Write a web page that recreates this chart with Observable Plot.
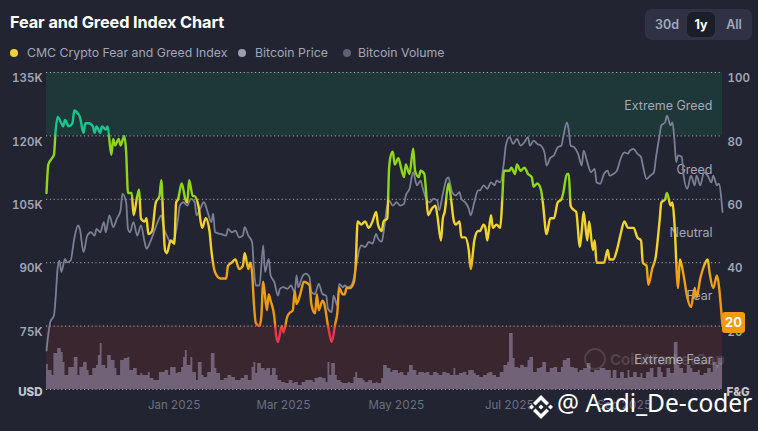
<!DOCTYPE html>
<html><head><meta charset="utf-8">
<script src="https://cdn.jsdelivr.net/npm/d3@7"></script>
<script src="https://cdn.jsdelivr.net/npm/@observablehq/plot@0.6"></script>
<style>
html,body{margin:0;padding:0;background:#222531;}
#wrap{position:relative;width:758px;height:431px;overflow:hidden;background:#222531;font-family:Inter,"Noto Sans",sans-serif;}
#title{position:absolute;left:10px;top:12px;color:#fff;font-weight:700;font-size:16.3px;letter-spacing:-0.1px;white-space:nowrap;}
.leg{position:absolute;top:45px;height:16px;line-height:16px;font-size:12.3px;color:#a0a5ba;white-space:nowrap;}
.dot{position:absolute;top:49px;width:8px;height:8px;border-radius:50%;}
#btns{position:absolute;left:645px;top:9px;width:107px;height:31px;border-radius:7px;background:#2e3244;}
.btn{position:absolute;top:0;height:31px;line-height:31px;font-size:12.5px;font-weight:600;color:#a3a8bc;text-align:center;}
#sel{position:absolute;left:42px;top:3px;width:28px;height:25px;border-radius:6px;background:#1b1d29;}
#chart{position:absolute;left:0;top:62px;}
#wm{position:absolute;left:557px;top:386px;font-family:"Noto Sans",sans-serif;font-size:24.5px;color:#fff;white-space:nowrap;}
#logo{position:absolute;left:528px;top:394px;}
#cmc{position:absolute;left:610px;top:350px;font-size:15px;font-weight:700;color:#fff;opacity:0.12;white-space:nowrap;}
#cmcl{position:absolute;left:584px;top:348px;width:18px;height:18px;border:2.5px solid #fff;border-radius:50%;opacity:0.12;}
</style></head>
<body>
<div id="wrap">
  <div id="title">Fear and Greed Index Chart</div>
  <div class="dot" style="left:10px;background:#f3d42f"></div><div class="leg" style="left:27px">CMC Crypto Fear and Greed Index</div>
  <div class="dot" style="left:238px;background:#9c9fad"></div><div class="leg" style="left:255px">Bitcoin Price</div>
  <div class="dot" style="left:343px;background:#5d6173"></div><div class="leg" style="left:358px">Bitcoin Volume</div>
  <div id="btns"><div id="sel"></div>
    <div class="btn" style="left:6px;width:32px">30d</div>
    <div class="btn" style="left:42px;width:28px;color:#fff;font-weight:700">1y</div>
    <div class="btn" style="left:74px;width:30px">All</div>
  </div>
  <div id="chart"></div>
  <div id="cmcl"></div><div id="cmc">CoinMarketCap</div>
  <svg id="logo" width="26" height="26" viewBox="0 0 26 26"><g fill="#fff">
    <polygon points="13,1 21,9 18.5,11.5 13,6 7.5,11.5 5,9"/>
    <polygon points="13,25 21,17 18.5,14.5 13,20 7.5,14.5 5,17"/>
    <polygon points="1,13 3.5,10.5 6,13 3.5,15.5"/>
    <polygon points="25,13 22.5,10.5 20,13 22.5,15.5"/>
    <polygon points="13,10.5 15.5,13 13,15.5 10.5,13"/>
  </g></svg>
  <div id="wm">@ Aadi_De-coder</div>
</div>
<script>
// ---- data (day offsets from 2024-10-24) ----
const fngDay = [0,1,3,4,5,6,8,9,10,12,14,15,17,18,20,21,23,25,26,27,29,30,32,33,35,36,37,39,40,42,43,44,46,47,49,50,51,53,54,55,57,59,61,62,63,64,65,67,69,70,71,73,75,76,77,79,80,82,84,86,88,89,91,94,97,98,100,102,104,106,107,109,110,111,112,113,115,116,117,119,120,121,123,124,125,127,128,130,131,133,134,135,137,139,142,143,145,146,147,149,150,152,153,154,156,157,158,160,161,162,164,166,167,168,170,172,174,176,178,179,181,182,184,185,186,187,188,190,191,193,194,196,198,199,201,202,204,205,206,208,210,211,213,214,215,217,218,220,221,223,224,226,228,229,231,233,234,236,237,238,240,241,243,245,246,247,250,251,253,254,256,258,260,262,263,265,267,268,270,272,274,276,278,279,281,282,283,284,286,288,289,290,292,293,295,296,297,299,301,303,304,306,308,310,312,314,315,317,319,321,322,324,325,327,329,331,332,334,335,337,338,339,341,342,344,346,348,350,351,353,355,357,358,360,362,363,364,365];
const fngVal = [62,71,73,74,82,86,84,83,85,83,84,88,87,86,81,84,84,83,81,83,81,83,82,83,74,79,77,79,77,80,75,62,62,55,61,63,54,53,54,49,50,59,61,66,54,44,43,47,46,59,60,65,60,59,66,61,61,58,51,54,50,44,37,35,35,39,40,41,38,39,43,38,40,37,27,21,20,23,34,25,30,28,23,17,15,20,18,23,24,25,31,27,30,34,33,27,24,30,25,28,27,20,17,15,21,24,32,30,30,32,32,34,40,53,52,53,51,53,56,52,50,53,54,70,74,75,71,73,71,67,71,68,76,69,67,69,68,62,55,57,58,55,47,54,56,65,62,53,52,53,48,48,44,38,47,50,50,52,51,47,55,51,52,51,59,69,69,70,68,71,69,70,68,67,64,65,63,59,49,54,54,59,60,62,68,68,58,57,56,45,50,56,47,53,44,47,40,40,40,44,41,41,44,49,53,51,51,51,48,47,40,39,33,38,42,53,59,60,62,58,59,53,32,41,36,29,26,32,29,35,39,41,37,32,36,33,27,20];

const priceDay = [0,2,4,5,6,7,8,10,11,13,15,17,18,20,22,24,26,27,29,31,32,34,36,38,40,41,43,44,45,47,49,51,53,54,56,58,60,62,63,65,67,69,71,72,74,76,78,80,81,83,85,87,89,90,91,94,97,98,100,102,104,106,107,109,111,112,113,115,117,118,120,121,123,125,126,128,130,132,134,135,136,138,140,142,143,145,147,149,151,152,154,155,157,158,160,161,163,165,167,169,170,172,174,176,178,179,181,182,184,185,187,189,191,193,194,196,198,200,202,203,205,207,209,211,212,214,216,217,219,221,223,224,226,228,229,231,233,234,236,238,240,242,243,245,247,248,250,252,254,256,258,260,261,263,265,267,269,270,272,274,276,278,279,281,282,283,285,287,289,290,292,294,296,297,299,301,303,304,306,308,310,312,314,315,317,319,321,322,324,326,328,329,331,332,334,335,337,338,339,340,341,343,344,346,348,350,351,353,355,357,359,360,362,363,365];
const priceVal = [69.2,75.9,77.5,82.2,88.6,90.5,87.8,90.9,90.1,90.5,95.7,98.8,98,92.5,96.4,97.2,96.4,98,97.2,99.6,97.2,101.2,98.4,100.4,102.4,106.3,104.3,98,97.2,99.6,96.4,98.8,94.9,93.3,94.9,97.2,99.6,101.2,98.8,96.4,94.9,95.7,100.4,103.5,104.3,103.5,105.1,104.3,101.2,102.8,104.3,102,99.6,101.6,97.2,96.8,96.4,98,97.2,97.6,96,96.4,98.4,96.4,94.9,88.6,84.6,84.6,94.1,87.8,90.9,87,85.4,82.2,83.8,84.2,83.8,84.6,83,87,84.2,86.6,87.4,86.6,83,82.6,85,82.6,82.2,79.1,78.3,82.2,79.9,85,84.2,84.6,84.2,85,88.6,93.3,94.1,93.7,94.9,94.5,96.8,95.7,95,97.2,103.5,104.7,103.5,104.3,103.5,103.9,105.9,107.5,111.4,108.3,109.4,107.9,105.1,104.3,105.1,104.7,102.4,106.3,109.8,110.2,106.7,105.9,106.7,105.1,104.3,102.8,101.2,104.3,107.1,107.1,108.3,107.5,109,108.3,109.4,109,113.8,117.7,119.7,118.1,119.3,117.7,118.5,119.7,117.7,118.9,118.1,117.7,115.8,113,114.8,115.4,117.3,117.7,119.7,123.2,121.3,117.7,117.3,115.8,113,116.5,113.8,111.4,112.2,109,108.7,111,111.8,110.6,111,111.8,114.6,116.1,115.8,116.5,116.9,115.8,115,113,109.8,110.6,111.4,114.6,120.1,122.5,123.2,124.8,122.5,123.2,119.3,113.8,115.4,115,110.6,107.5,110.6,108.3,110.6,108.3,111.4,110.6,109,110.6,108.3,108.7,102];

const volDay = [0,1,3,4,6,8,9,10,12,14,15,17,18,20,22,23,25,27,28,29,30,32,33,35,37,38,40,42,44,45,47,49,51,52,55,56,58,61,64,66,67,70,71,73,74,75,76,78,79,81,82,84,85,87,89,91,92,94,96,98,100,102,103,105,107,109,111,112,113,114,116,118,119,121,122,124,125,127,129,131,133,134,136,138,140,141,144,145,147,149,151,152,153,154,156,157,159,160,163,164,166,167,168,171,172,174,176,178,179,181,182,184,186,187,190,191,193,195,196,198,200,201,204,205,207,209,211,212,214,216,218,220,221,223,225,227,228,231,232,234,236,238,239,241,243,245,247,249,250,252,253,255,256,258,260,261,263,265,267,268,270,272,274,276,278,279,281,283,285,287,288,290,292,294,296,299,302,305,306,308,310,312,314,315,317,319,321,322,324,326,328,330,332,333,335,337,339,341,342,344,346,348,349,352,353,355,357,359,360,362,363,365];
const volVal = [50,38,28,72,82,74,54,28,44,44,64,28,44,54,38,28,42,48,68,92,48,42,68,58,42,28,58,62,64,38,42,28,32,28,34,22,18,34,38,28,44,32,34,44,64,78,48,64,34,18,54,28,24,34,72,42,32,18,22,28,24,18,18,22,28,18,44,54,32,52,42,38,42,28,42,28,18,14,12,18,12,14,8,14,18,18,14,22,24,22,14,54,28,52,28,18,14,12,14,12,24,34,22,18,14,18,12,14,12,22,48,42,34,38,32,34,28,34,48,38,28,34,32,34,28,34,32,28,34,32,28,42,28,32,34,28,38,32,28,24,28,32,34,28,24,34,48,54,112,62,44,42,48,44,58,64,34,42,44,54,34,42,44,34,44,58,62,44,42,34,38,42,52,34,38,42,38,22,38,22,34,22,38,24,34,24,32,22,34,42,24,44,34,24,42,32,94,48,42,32,48,42,34,38,28,32,42,34,54,48,62,52];

const priceTickLabels = ["USD","75K","90K","105K","120K","135K"];
const fngTickLabels = ["F&G","20","40","60","80","100"];
const fngTicks = [0,20,40,60,80,100];
const monthTicks = ["2025-01-01","2025-03-01","2025-05-01","2025-07-01","2025-09-01"];
const zones = [
  {label:"Extreme Greed", lo:80, hi:100},
  {label:"Greed", lo:60, hi:80},
  {label:"Neutral", lo:40, hi:60},
  {label:"Fear", lo:20, hi:40},
  {label:"Extreme Fear", lo:0, hi:20}
];

// ---- build tables ----
const start = Date.UTC(2024, 9, 24);
const toDate = d => new Date(start + d * 864e5);
const fng = fngDay.map((d, i) => ({date: toDate(d), v: fngVal[i]}));
const price = priceDay.map((d, i) => ({date: toDate(d), p: priceVal[i]}));
const vol = volDay.map((d, i) => ({date: toDate(d), b: volVal[i]}));
const P2F = p => (p - 60) / 0.75;      // USD K -> index units (60K..135K = 0..100)
const V2F = b => b * 0.158;            // volume $B -> index units
const last = fng[fng.length - 1];

const stops = [[100,"#17c68c"],[81,"#17c68c"],[79,"#8fd61a"],[61,"#8fd61a"],[59,"#f2d22c"],[42,"#f2d22c"],[38,"#f0a417"],[21,"#ee9410"],[19,"#e8374a"],[0,"#e8374a"]];
const NS = "http://www.w3.org/2000/svg";
function gradientDefs(index, scales) {
  const defs = document.createElementNS(NS, "defs");
  const g = document.createElementNS(NS, "linearGradient");
  g.setAttribute("id", "fgGrad");
  g.setAttribute("gradientUnits", "userSpaceOnUse");
  g.setAttribute("x1", 0); g.setAttribute("x2", 0);
  g.setAttribute("y1", scales.y(100)); g.setAttribute("y2", scales.y(0));
  for (const [v, c] of stops) {
    const s = document.createElementNS(NS, "stop");
    s.setAttribute("offset", (100 - v) / 100);
    s.setAttribute("stop-color", c);
    g.appendChild(s);
  }
  defs.appendChild(g);
  return defs;
}
function badge(index, scales, values, dims) {
  const gEl = document.createElementNS(NS, "g");
  const x0 = dims.width - dims.marginRight;
  const cy = scales.y(last.v) - 3;
  const r = document.createElementNS(NS, "rect");
  r.setAttribute("x", x0); r.setAttribute("y", cy - 10.5);
  r.setAttribute("width", 23); r.setAttribute("height", 21);
  r.setAttribute("rx", 3); r.setAttribute("fill", "#f29a0e");
  const t = document.createElementNS(NS, "text");
  t.setAttribute("x", x0 + 11.5); t.setAttribute("y", cy + 4.5);
  t.setAttribute("text-anchor", "middle"); t.setAttribute("fill", "#fff");
  t.setAttribute("font-size", "13"); t.setAttribute("font-weight", "700");
  t.textContent = String(last.v);
  gEl.appendChild(r); gEl.appendChild(t);
  return gEl;
}

const chart = Plot.plot({
  width: 758, height: 369,
  marginTop: 10, marginBottom: 42, marginLeft: 46, marginRight: 36,
  style: {background: "transparent", fontFamily: "Inter, sans-serif", overflow: "visible"},
  x: {type: "utc", domain: [toDate(0), toDate(365)], axis: null},
  y: {domain: [0, 100], axis: null},
  marks: [
    gradientDefs,
    Plot.rect([zones[0]], {y1: "lo", y2: "hi", fill: "#1e3739"}),
    Plot.rect([zones[4]], {y1: "lo", y2: "hi", fill: "#39262f"}),
    Plot.areaY(vol, {x: "date", y: d => V2F(d.b), curve: "step-after", fill: "#716277"}),
    Plot.ruleY(fngTicks, {stroke: "#cfd2dc", strokeOpacity: 0.75, strokeDasharray: "1.2 2.6", strokeWidth: 1}),
    Plot.text(zones, {y: d => (d.lo + d.hi) / 2, text: "label", frameAnchor: "right", textAnchor: "end", dx: -10, dy: 2, fill: "#a3a7b8", fontSize: 12.5}),
    Plot.line(price, {x: "date", y: d => P2F(d.p), stroke: "#7b7f93", strokeWidth: 1.8, curve: "monotone-x"}),
    Plot.line(fng, {x: "date", y: "v", stroke: "url(#fgGrad)", strokeWidth: 2.4, curve: "monotone-x"}),
    Plot.axisY({anchor: "left", ticks: fngTicks.slice(1), tickFormat: v => priceTickLabels[fngTicks.indexOf(v)], tickSize: 0, tickPadding: 4, dy: 6, fill: "#a3a7b8", fontSize: 11.5, fontWeight: 600, label: null}),
    Plot.axisY({anchor: "right", ticks: fngTicks.slice(1), tickFormat: v => fngTickLabels[fngTicks.indexOf(v)], tickSize: 0, tickPadding: 5, dy: 6, fill: "#a3a7b8", fontSize: 11.5, fontWeight: 600, label: null}),
    Plot.text([priceTickLabels[0]], {frameAnchor: "bottom-left", textAnchor: "end", dx: -4, dy: 6, fill: "#c3c6d2", fontSize: 11.5, fontWeight: 800}),
    Plot.text([fngTickLabels[0]], {frameAnchor: "bottom-right", textAnchor: "start", dx: 4, dy: 6, fill: "#c3c6d2", fontSize: 11.5, fontWeight: 800}),
    Plot.axisX({ticks: monthTicks.map(s => new Date(s + "T00:00:00Z")), tickFormat: d3.utcFormat("%b %Y"), tickSize: 0, tickPadding: 11, fill: "#6a6f86", fontSize: 11.5, label: null}),
    badge
  ]
});
document.getElementById("chart").appendChild(chart);
</script>
</body></html>
